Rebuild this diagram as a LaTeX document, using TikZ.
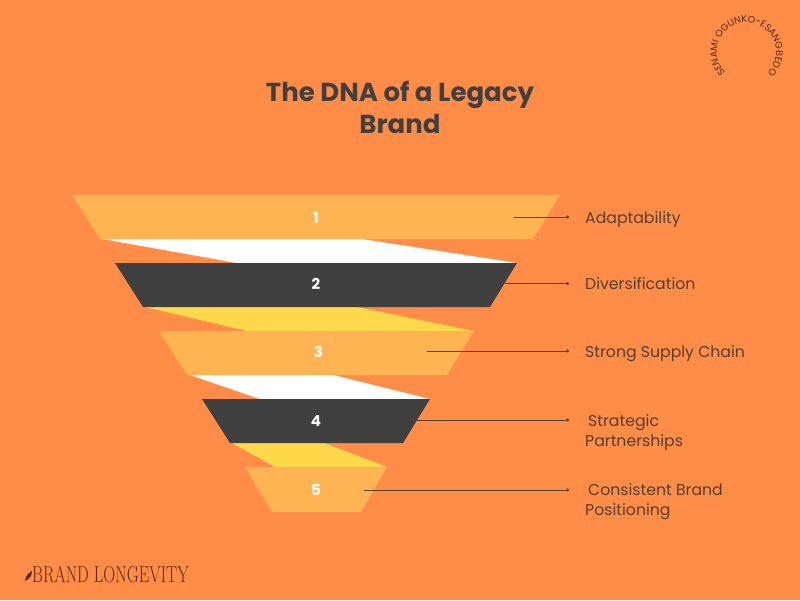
\documentclass[tikz,border=0pt]{standalone}
\usepackage{fontspec}
\setmainfont{Poppins}
\newfontfamily\logofont[FakeStretch=0.72]{Latin Modern Roman}
\usetikzlibrary{arrows.meta,decorations.text}
\definecolor{bgc}{HTML}{FF8C47}
\definecolor{bandc}{HTML}{FFB453}
\definecolor{darkc}{HTML}{404040}
\definecolor{yelc}{HTML}{FFD84C}
\definecolor{labc}{HTML}{55402F}
\definecolor{arcc}{HTML}{4A2C14}
\definecolor{logoc}{HTML}{5C2A08}
\tikzset{
  x=1pt,y=-1pt,
  band/.style={fill=bandc},
  darkband/.style={fill=darkc},
  whitelink/.style={fill=white},
  yellink/.style={fill=yelc},
  num/.style={text=white,font=\fontsize{15}{15}\selectfont\bfseries,inner sep=0pt},
  lab/.style={text=labc,font=\fontsize{15.7}{20}\selectfont,anchor=base west,align=left,inner sep=0pt},
  leader/.style={draw=labc,line width=0.9pt,-{Circle[length=3pt,width=3pt]}},
}
\begin{document}
\begin{tikzpicture}
\useasboundingbox (0,0) rectangle (800,600);
\fill[bgc] (0,0) rectangle (800,600);
% links
\fill[whitelink] (102,239) -- (362,239) -- (517,263) -- (237,263) -- cycle;
\fill[yellink] (145,307) -- (357,307) -- (474,331) -- (247,331) -- cycle;
\fill[whitelink] (190,375) -- (333,375) -- (430,399) -- (260,399) -- cycle;
\fill[yellink] (232,443) -- (324,443) -- (387,467) -- (275,467) -- cycle;
% bands
\fill[band] (72,195) -- (560,195) -- (533,239) -- (100,239) -- cycle;
\fill[darkband] (115,263) -- (517,263) -- (490,307) -- (143,307) -- cycle;
\fill[band] (159,331) -- (474,331) -- (447,375) -- (187,375) -- cycle;
\fill[darkband] (202,399) -- (430,399) -- (403,443) -- (230,443) -- cycle;
\fill[band] (245,467) -- (387,467) -- (361,512) -- (272,512) -- cycle;
% numbers
\node[num] (n1) at (316,218) {1};
\node[num] (n2) at (316,284) {2};
\node[num] (n3) at (318.5,352) {3};
\node[num] (n4) at (316,421) {4};
\node[num] (n5) at (316,490) {5};
% labels
\node[lab] (l1) at (585,223) {Adaptability};
\node[lab] (l2) at (585,289) {Diversification};
\node[lab] (l3) at (585,357) {Strong Supply Chain};
\node[lab] (l4) at (585,446) {\hspace*{3pt}Strategic\\Partnerships};
\node[lab] (l5) at (585,515) {\hspace*{3pt}Consistent Brand\\Positioning};
% leaders
\coordinate (s1) at (514,217);
\coordinate (e1) at (569,217);
\coordinate (s2) at (505,283.5);
\coordinate (e2) at (569,283.5);
\coordinate (s3) at (427,351);
\coordinate (e3) at (569,351);
\coordinate (s4) at (416,420);
\coordinate (e4) at (569,420);
\coordinate (s5) at (364,490);
\coordinate (e5) at (569,490);
\foreach \i in {1,...,5} \draw[leader] (s\i) -- (e\i);
% title
\node[text=darkc,font=\fontsize{26}{32}\selectfont\bfseries,align=center,inner sep=0pt] (title) at (400,107) {The DNA of a Legacy\\Brand};
% author arc
\path[postaction={decorate},decoration={text along path,text align=center,
  text={|\fontsize{9.5}{9.5}\selectfont\color{arcc}|SENAMI OGUNKO-ESANGBEDO}}]
  (723.9,71) arc[start angle=140,end angle=400,radius=29.5];
% logo
\fill[logoc] (25,581) .. controls (25.5,576) and (28,573.5) .. (32,571) .. controls (32,575) and (30,579) .. (25,581) -- cycle;
\node[text=logoc,font=\logofont\fontsize{23}{23}\selectfont,anchor=base west,inner sep=0pt] (logo) at (32,582) {BRAND LONGEVITY};
\end{tikzpicture}
\end{document}
